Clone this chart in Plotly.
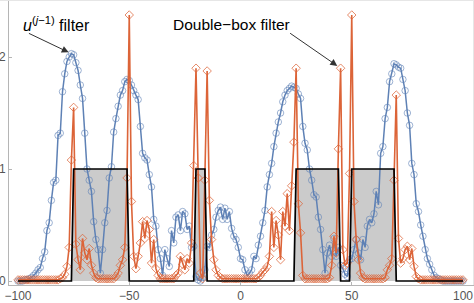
import plotly.graph_objects as go

# ---------------- data ----------------
x_vals = list(range(-100, 101))  # sample grid, step 1

# u^(j-1) filter (blue, circles)
blue_u = [
    0.00, 0.00, 0.00, 0.01, 0.01, 0.02, 0.03, 0.05, 0.07, 0.10,   # -100..-91
    0.12, 0.20, 0.26, 0.45, 0.52, 0.72, 0.88, 0.90, 1.30, 1.32,   # -90..-81
    1.69, 1.85, 1.96, 2.00, 2.03, 2.02, 1.95, 1.88, 1.75, 1.63,   # -80..-71
    1.32, 1.00, 0.90, 0.80, 0.53, 0.37, 0.28, 0.07, 0.28, 0.52,   # -70..-61
    0.63, 0.92, 1.02, 1.33, 1.45, 1.56, 1.66, 1.70, 1.78, 1.80,   # -60..-51
    1.79, 1.75, 1.70, 1.66, 1.62, 1.38, 1.14, 1.10, 1.08, 0.95,   # -50..-41
    0.84, 0.55, 0.49, 0.28, 0.20, 0.05, 0.28, 0.20, 0.13, 0.45,   # -40..-31
    0.34, 0.57, 0.59, 0.45, 0.62, 0.60, 0.46, 0.49, 0.30, 0.31,   # -30..-21
    0.04, 0.01, 0.00, 0.03, 0.10, 0.31, 0.30, 0.41, 0.46, 0.57,   # -20..-11
    0.63, 0.66, 0.55, 0.65, 0.55, 0.62, 0.47, 0.40, 0.37, 0.30,   # -10..-1
    0.20, 0.19, 0.10, 0.05, 0.07, 0.10, 0.22, 0.20, 0.32, 0.40,   # 0..9
    0.52, 0.63, 0.84, 0.95, 1.05, 1.20, 1.32, 1.42, 1.50, 1.60,   # 10..19
    1.66, 1.70, 1.72, 1.74, 1.73, 1.72, 1.67, 1.63, 1.38, 1.23,   # 20..29
    1.17, 1.00, 0.90, 0.77, 0.75, 0.57, 0.46, 0.28, 0.07, 0.25,   # 30..39
    0.32, 0.22, 0.38, 0.22, 0.30, 0.14, 0.11, 0.06, 0.04, 0.19,   # 40..49
    0.20, 0.28, 0.37, 0.25, 0.19, 0.37, 0.30, 0.49, 0.55, 0.52,   # 50..59
    0.60, 0.80, 0.68, 1.14, 1.20, 1.45, 1.55, 1.78, 1.85, 1.94,   # 60..69
    1.93, 1.91, 1.90, 1.80, 1.70, 1.50, 1.39, 1.05, 0.95, 0.69,   # 70..79
    0.62, 0.50, 0.40, 0.28, 0.20, 0.15, 0.10, 0.05, 0.03, 0.02,   # 80..89
    0.01, 0.00, 0.00, 0.00, 0.00, 0.00, 0.00, 0.00, 0.00, 0.00,   # 90..99
    0.00,                                                         # 100
]

# Double-box filter result (orange, diamonds)
orange_dbl = [
    0.01, 0.01, 0.01, 0.01, 0.01, 0.01, 0.01, 0.01, 0.01, 0.01,   # -100..-91
    0.01, 0.01, 0.01, 0.01, 0.01, 0.01, 0.01, 0.01, 0.01, 0.02,   # -90..-81
    0.03, 0.06, 0.13, 0.30, 1.08, 1.55, 0.33, 0.19, 0.10, 0.38,   # -80..-71
    0.25, 0.19, 0.29, 0.14, 0.07, 0.03, 0.02, 0.02, 0.02, 0.02,   # -70..-61
    0.02, 0.02, 0.02, 0.02, 0.04, 0.07, 0.14, 0.19, 0.30, 0.92,   # -60..-51
    2.375, 0.71, 0.22, 0.11, 0.22, 0.34, 0.53, 0.38, 0.54, 0.46,  # -50..-41
    0.16, 0.37, 0.11, 0.05, 0.02, 0.02, 0.02, 0.02, 0.02, 0.02,   # -40..-31
    0.02, 0.05, 0.07, 0.22, 0.15, 0.10, 0.20, 0.16, 0.34, 1.03,   # -30..-21
    1.90, 0.92, 0.07, 0.02, 0.90, 1.875, 0.72, 0.37, 0.19, 0.10,  # -20..-11
    0.05, 0.03, 0.02, 0.02, 0.02, 0.02, 0.02, 0.02, 0.02, 0.02,   # -10..-1
    0.02, 0.02, 0.02, 0.02, 0.02, 0.02, 0.02, 0.02, 0.03, 0.05,   # 0..9
    0.08, 0.10, 0.13, 0.22, 0.62, 0.30, 0.54, 0.41, 0.19, 0.62,   # 10..19
    0.49, 0.78, 0.45, 0.85, 1.24, 1.90, 0.69, 0.43, 0.05, 0.02,   # 20..29
    0.02, 0.02, 0.02, 0.02, 0.02, 0.02, 0.02, 0.02, 0.02, 0.02,   # 30..39
    0.03, 0.14, 0.40, 0.25, 1.18, 1.90, 0.28, 0.14, 0.16, 0.96,   # 40..49
    2.375, 0.71, 0.37, 0.19, 0.07, 0.03, 0.02, 0.02, 0.02, 0.02,  # 50..59
    0.02, 0.02, 0.02, 0.02, 0.02, 0.03, 0.10, 0.14, 0.20, 0.90,   # 60..69
    1.66, 0.38, 0.16, 0.20, 0.28, 0.31, 0.19, 0.29, 0.13, 0.04,   # 70..79
    0.02, 0.01, 0.01, 0.01, 0.01, 0.01, 0.01, 0.01, 0.01, 0.01,   # 80..89
    0.01, 0.01, 0.01, 0.01, 0.01, 0.01, 0.01, 0.01, 0.01, 0.01,   # 90..99
    0.01,                                                         # 100
]

# double-box windows: (first x with value 1, last x with value 1)
box_windows = [(-75, -51), (-20, -16), (25, 44), (50, 69)]
box_level = 1

x_ticks = [-100, -50, 0, 50, 100]
x_tick_text = ["\u2212100", "\u221250", "0", "50", "100"]
y_ticks = [0, 1, 2]
y_tick_text = ["0", "1", "2"]

box_filter = [box_level if any(a <= xv <= b for a, b in box_windows) else 0
              for xv in x_vals]

# ---------------- figure ----------------
BLUE = "#5e81b5"
ORANGE = "#dc6438"
FONT = "Liberation Sans, Arial, sans-serif"

fig = go.Figure()

# gray filling under the box filter
fig.add_trace(go.Scatter(
    x=x_vals, y=box_filter, mode="lines",
    line=dict(width=0, color="rgba(0,0,0,0)"),
    fill="tozeroy", fillcolor="#cbcbcb", hoverinfo="skip", showlegend=False))

fig.add_trace(go.Scatter(
    x=x_vals, y=blue_u, mode="lines+markers",
    line=dict(color=BLUE, width=1.5),
    marker=dict(symbol="circle-open", size=6.5,
                color="rgba(94,129,181,0.6)", line=dict(width=1)),
    showlegend=False))

fig.add_trace(go.Scatter(
    x=x_vals, y=orange_dbl, mode="lines+markers",
    line=dict(color=ORANGE, width=1.6),
    marker=dict(symbol="diamond-open", size=6.5,
                color="rgba(220,100,56,0.75)", line=dict(width=1)),
    showlegend=False))

fig.add_trace(go.Scatter(
    x=x_vals, y=box_filter, mode="lines",
    line=dict(color="black", width=1.7),
    showlegend=False))

# arrow targets from the data
i_peak = blue_u.index(max(blue_u))
i_ob = x_vals.index(45)

annotations = [
    dict(text="<i>u</i><sup>(<i>j</i>\u22121)</sup> filter",
         xref="paper", yref="paper", x=0.026, y=0.915,
         xanchor="left", yanchor="middle", showarrow=False,
         font=dict(family=FONT, size=16, color="black")),
    dict(text="Double\u2212box filter",
         xref="paper", yref="paper", x=0.349, y=0.913,
         xanchor="left", yanchor="middle", showarrow=False,
         font=dict(family=FONT, size=15.5, color="black")),
    dict(text="", x=x_vals[i_peak], y=blue_u[i_peak], xref="x", yref="y",
         ax=-44, ay=-21, showarrow=True, arrowhead=2, arrowsize=1.4,
         arrowwidth=1, arrowcolor="#333333", standoff=3),
    dict(text="", x=x_vals[i_ob], y=orange_dbl[i_ob], xref="x", yref="y",
         ax=-52, ay=-36, showarrow=True, arrowhead=2, arrowsize=1.4,
         arrowwidth=1, arrowcolor="#333333", standoff=4),
]

fig.update_layout(
    width=474, height=303,
    margin=dict(l=9, r=0, t=0, b=18),
    paper_bgcolor="white", plot_bgcolor="white",
    font=dict(family=FONT, size=12, color="#555555"),
    annotations=annotations,
    shapes=[
        dict(type="line", xref="paper", yref="paper", x0=-0.02, x1=1, y0=1, y1=1,
             line=dict(color="#e6e6e6", width=2)),
        dict(type="line", xref="paper", yref="paper", x0=1, x1=1, y0=0, y1=1,
             line=dict(color="#e6e6e6", width=2)),
    ],
)
fig.update_xaxes(range=[-104.05, 104.95], showgrid=False, zeroline=False,
                 showline=True, linecolor="#b5b5b5", linewidth=1,
                 ticks="inside", ticklen=3, tickcolor="#b5b5b5",
                 tickvals=x_ticks, ticktext=x_tick_text,
                 tickfont=dict(size=12, color="#555555"))
fig.update_yaxes(range=[-0.0357, 2.509], showgrid=False, zeroline=False,
                 showline=True, linecolor="#b5b5b5", linewidth=1,
                 ticks="inside", ticklen=3, tickcolor="#b5b5b5",
                 tickvals=y_ticks, ticktext=y_tick_text,
                 tickfont=dict(size=12, color="#555555"))

fig.write_html("out.html")
